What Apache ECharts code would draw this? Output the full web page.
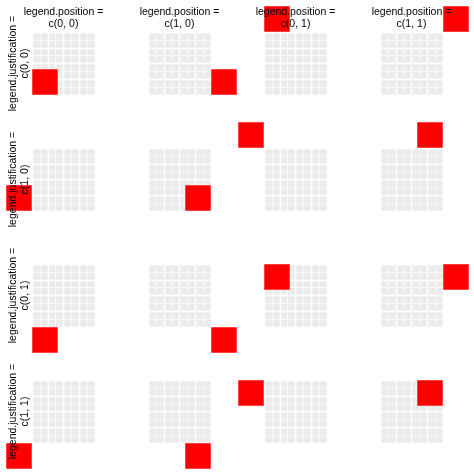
<!DOCTYPE html>
<html><head><meta charset="utf-8">
<script src="https://cdn.jsdelivr.net/npm/echarts@6/dist/echarts.min.js"></script>
<style>html,body{margin:0;padding:0;background:#fff}#c{width:474px;height:474px}</style>
</head><body><div id="c"></div>
<script>
const positions = [[0,0],[1,0],[0,1],[1,1]];
const justifications = [[0,0],[1,0],[0,1],[1,1]];
const colLabels = ['legend.position =\nc(0, 0)','legend.position =\nc(1, 0)','legend.position =\nc(0, 1)','legend.position =\nc(1, 1)'];
const rowLabels = ['legend.justification =\nc(0, 0)','legend.justification =\nc(1, 0)','legend.justification =\nc(0, 1)','legend.justification =\nc(1, 1)'];
const lefts = [32,148,264,380], tops = [32,148,264,380];
const S = 63, K = 26;
const grid=[], xAxis=[], yAxis=[], series=[], graphic=[];
let idx=0;
for (let r=0;r<4;r++){
  for (let c=0;c<4;c++){
    grid.push({left:lefts[c],top:tops[r],width:S,height:S,show:true,backgroundColor:'#EBEBEB',borderWidth:0});
    const ax = {gridIndex:idx,type:'value',min:0,max:4,interval:1,axisLine:{show:false},axisTick:{show:false},axisLabel:{show:false},
      splitLine:{show:true,lineStyle:{color:'#fff',width:1.4}},minorTick:{show:false,splitNumber:2},minorSplitLine:{show:true,lineStyle:{color:'#fff',width:0.7}}};
    xAxis.push(Object.assign({},ax));
    yAxis.push(Object.assign({},ax));
    const p=positions[c], j=justifications[r];
    series.push({type:'scatter',xAxisIndex:idx,yAxisIndex:idx,clip:false,symbol:'rect',symbolSize:K,
      symbolOffset:[(0.5-j[0])*K,(j[1]-0.5)*K],itemStyle:{color:'#FF0000',opacity:1,borderColor:'#fff',borderWidth:0.5},
      silent:true,z:3,data:[[p[0]*4,p[1]*4]]});
    idx++;
  }
}
const F='10.5px "Liberation Sans", Arial, sans-serif';
for (let c=0;c<4;c++){
  graphic.push({type:'text',x:lefts[c]+S/2,y:6,z:100,style:{text:colLabels[c],font:F,fill:'#000',align:'center',verticalAlign:'top',lineHeight:12}});
}
for (let r=0;r<4;r++){
  graphic.push({type:'text',x:7,y:tops[r]+S/2,rotation:Math.PI/2,z:100,style:{text:rowLabels[r],font:F,fill:'#000',align:'center',verticalAlign:'top',lineHeight:12}});
}
const ch=echarts.init(document.getElementById('c'));
ch.setOption({animation:false,grid,xAxis,yAxis,series,graphic});
</script></body></html>
